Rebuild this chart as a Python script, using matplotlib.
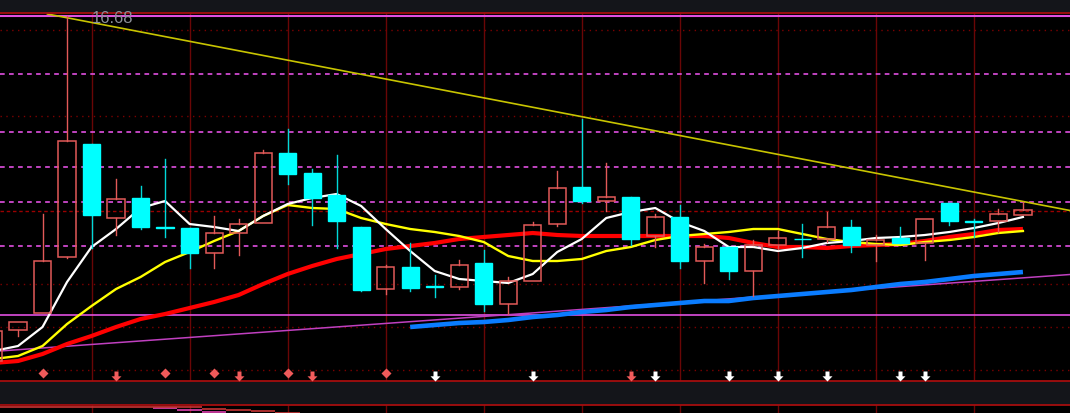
import matplotlib
matplotlib.use("Agg")
import matplotlib.pyplot as plt
from matplotlib.patches import Rectangle
from matplotlib.path import Path
import matplotlib.transforms as mtransforms

# ---------------- data ----------------
opens = [9.78, 10.40, 10.74, 11.86, 14.12, 12.64, 13.04, 12.46, 12.44, 11.94,
         12.34, 12.54, 13.94, 13.54, 13.10, 12.46, 11.22, 11.66, 11.28, 11.26,
         11.74, 10.92, 11.38, 12.52, 13.26, 12.98, 13.06, 12.28, 12.66, 11.78,
         12.06, 11.58, 12.10, 12.23, 12.22, 12.46, 12.10, 12.24, 12.14, 12.94,
         12.58, 12.58, 12.70]
highs = [10.40, 10.56, 12.72, 16.68, 14.12, 13.42, 13.28, 13.82, 12.44, 12.68,
         12.62, 14.00, 14.42, 13.62, 13.90, 12.46, 11.70, 12.14, 11.50, 11.80,
         12.00, 11.46, 12.56, 13.58, 14.62, 13.74, 13.06, 12.72, 12.90, 12.12,
         12.06, 12.20, 12.38, 12.52, 12.76, 12.60, 12.30, 12.46, 12.62, 12.94,
         12.62, 12.82, 12.96]
lows = [9.76, 10.28, 10.74, 11.84, 12.04, 12.30, 12.42, 12.26, 11.64, 11.64,
        11.90, 12.54, 13.32, 12.50, 12.04, 11.18, 11.12, 11.18, 11.06, 11.22,
        10.78, 10.72, 11.38, 12.48, 12.94, 12.78, 12.10, 12.06, 11.64, 11.34,
        11.42, 11.08, 12.02, 11.86, 12.16, 11.96, 11.78, 12.14, 11.80, 12.50,
        12.26, 12.36, 12.70]
closes = [10.38, 10.56, 11.78, 14.18, 12.70, 13.02, 12.46, 12.45, 11.94, 12.34,
          12.52, 13.94, 13.52, 13.04, 12.58, 11.20, 11.66, 11.24, 11.27, 11.70,
          10.92, 11.38, 12.50, 13.24, 12.98, 13.06, 12.22, 12.66, 11.78, 12.06,
          11.58, 12.10, 12.24, 12.22, 12.46, 12.10, 12.20, 12.14, 12.62, 12.58,
          12.57, 12.72, 12.80]

ma_white = [9.98, 10.08, 10.46, 11.36, 12.06, 12.42, 12.84, 12.98, 12.52, 12.46,
            12.38, 12.68, 12.92, 13.04, 13.12, 12.88, 12.42, 11.98, 11.58, 11.42,
            11.38, 11.34, 11.52, 11.96, 12.22, 12.64, 12.76, 12.84, 12.56, 12.38,
            12.06, 12.06, 11.98, 12.04, 12.14, 12.18, 12.24, 12.26, 12.30, 12.36,
            12.44, 12.54, 12.66]
ma_yellow = [9.82, 9.88, 10.08, 10.52, 10.88, 11.22, 11.46, 11.76, 11.96, 12.18,
             12.38, 12.68, 12.90, 12.84, 12.82, 12.64, 12.52, 12.42, 12.36, 12.28,
             12.16, 11.88, 11.78, 11.78, 11.82, 11.98, 12.06, 12.20, 12.28, 12.32,
             12.36, 12.42, 12.42, 12.32, 12.22, 12.16, 12.12, 12.10, 12.16, 12.20,
             12.26, 12.34, 12.38]
ma_red = [9.74, 9.78, 9.92, 10.12, 10.28, 10.46, 10.62, 10.72, 10.84, 10.96,
          11.10, 11.32, 11.52, 11.68, 11.82, 11.92, 12.02, 12.08, 12.14, 12.22,
          12.26, 12.30, 12.34, 12.30, 12.28, 12.28, 12.28, 12.28, 12.28, 12.28,
          12.24, 12.14, 12.06, 12.06, 12.04, 12.08, 12.10, 12.12, 12.18, 12.26,
          12.32, 12.40, 12.42]
ma_blue_start = 17
ma_blue = [10.46, 10.50, 10.54, 10.56, 10.60, 10.66, 10.70, 10.76, 10.80, 10.86,
           10.90, 10.94, 10.98, 10.98, 11.04, 11.08, 11.12, 11.16, 11.20, 11.26,
           11.32, 11.36, 11.42, 11.48, 11.52, 11.56]

high_label = "16.68"
high_price = 16.68
high_index = 3

resist_x = [2.2, 43.92]
resist_y = [16.72, 12.79]
support_x = [0.27, 43.92]
support_y = [9.98, 11.51]

magenta_dash_levels = [15.52, 14.36, 13.66, 12.97, 12.09]
magenta_solid_levels = [16.68, 10.70]
red_dot_levels = [16.40, 14.68, 11.32, 10.46, 9.61]
last_price_level = 12.79

grid_idx = [4, 8, 12, 16, 20, 24, 28, 32, 36, 40]

diamond_idx = [2, 7, 9, 12, 16]
red_arrow_idx = [5, 10, 13, 26]
white_arrow_idx = [18, 22, 27, 30, 32, 34, 37, 38]

ind_red = [6.5, 6.5, 6.5, 6.5, 6.5, 6.5, 6.5, 6.5, 6.5, 4.0, 3.0, 1.7, 0.5]
ind_pink_start = 7
ind_pink = [5.3, 3.0, 1.0]

# ---------------- styling ----------------
BG_BAND = "#14151a"
BORDER = "#a50e0e"
GRID = "#6a0606"
UP = "#e35a58"
DOWN = "#00ffff"

W, H = 1070, 414
fig = plt.figure(figsize=(W / 100, H / 100), dpi=100, facecolor=BG_BAND)

xlim = (0.2652, 43.92)
ax = fig.add_axes([0, 32.5 / H, 1, 367.5 / H])
ax.set_facecolor("black")
ax.set_xlim(*xlim)
ax.set_ylim(9.39, 16.74)
ax.set_xticks([])
ax.set_yticks([])
for s in ("left", "right"):
    ax.spines[s].set_visible(False)
for s in ("top", "bottom"):
    ax.spines[s].set_color(BORDER)
    ax.spines[s].set_linewidth(1.3)

# vertical grid
for g in grid_idx:
    ax.axvline(g, color=GRID, lw=1.0, zorder=1)

# horizontal levels
for lv in red_dot_levels:
    ax.axhline(lv, color="#7c0000", lw=1.0, ls=(0, (1.0, 3.2)), zorder=1)
ax.axhline(last_price_level, color="#9a0000", lw=1.0, ls=(0, (2.5, 2.0)), zorder=1)
for lv in magenta_dash_levels:
    ax.axhline(lv, color="#d04ad0", lw=1.3, ls=(0, (2.6, 2.4)), zorder=2)
for lv in magenta_solid_levels:
    ax.axhline(lv, color="#e050e0", lw=1.5 if lv == high_price else 1.2, zorder=2)

# trend lines
ax.plot(resist_x, resist_y, color="#c8c400", lw=1.2, zorder=2)
ax.plot(support_x, support_y, color="#c040c0", lw=1.1, zorder=2)

# moving averages
idx = list(range(len(closes)))
ax.plot(idx, ma_red, color="#ff0000", lw=3.0, zorder=3, solid_capstyle="butt")
ax.plot(idx, ma_yellow, color="#ffff00", lw=1.7, zorder=3)
ax.plot(idx, ma_white, color="#ffffff", lw=1.6, zorder=3)
blue_idx = list(range(ma_blue_start, ma_blue_start + len(ma_blue)))
ax.plot(blue_idx, ma_blue, color="#0a7cff", lw=3.3, zorder=3, solid_capstyle="butt")

# candles
bw = 0.70
for j, (o, h, l, c) in enumerate(zip(opens, highs, lows, closes)):
    top, bot = max(o, c), min(o, c)
    if c >= o:
        ax.plot([j, j], [top, h], color=UP, lw=1.0, zorder=4)
        ax.plot([j, j], [l, bot], color=UP, lw=1.0, zorder=4)
        ax.add_patch(Rectangle((j - bw / 2, bot), bw, top - bot, facecolor="none",
                               edgecolor=UP, lw=1.1, zorder=5))
    else:
        ax.plot([j, j], [l, h], color="#00d8d8", lw=1.0, zorder=4)
        ax.add_patch(Rectangle((j - bw / 2, bot), bw, top - bot, facecolor=DOWN,
                               edgecolor=DOWN, lw=1.0, zorder=5))

# high label
ax.annotate(high_label, xy=(high_index, high_price), xytext=(18, -1.0),
            textcoords="offset points", color="#8b8f98", fontsize=12,
            family=["Liberation Sans", "DejaVu Sans"], va="center", ha="left",
            zorder=6)

# signal markers
trans = mtransforms.blended_transform_factory(ax.transData, ax.transAxes)
arrow_path = Path([(-0.2, 0.5), (0.2, 0.5), (0.2, 0.02), (0.5, 0.02), (0.0, -0.5),
                   (-0.5, 0.02), (-0.2, 0.02), (-0.2, 0.5)],
                  [Path.MOVETO] + [Path.LINETO] * 6 + [Path.CLOSEPOLY])
ax.plot(diamond_idx, [0.021] * len(diamond_idx), ls="none", marker="D", ms=5.0,
        mfc="#f05a5a", mec="none", transform=trans, zorder=6, clip_on=False)
ax.plot(red_arrow_idx, [0.0125] * len(red_arrow_idx), ls="none", marker=arrow_path,
        ms=7.2, mfc="#f25c5c", mec="none", transform=trans, zorder=6, clip_on=False)
ax.plot(white_arrow_idx, [0.0125] * len(white_arrow_idx), ls="none", marker=arrow_path,
        ms=7.2, mfc="#ffffff", mec="none", transform=trans, zorder=6, clip_on=False)

# bottom indicator strip
ax2 = fig.add_axes([0, 0, 1, 8 / H])
ax2.set_facecolor("black")
ax2.set_xlim(*xlim)
ax2.set_ylim(0, 8)
ax2.set_xticks([])
ax2.set_yticks([])
for s in ("left", "right", "bottom"):
    ax2.spines[s].set_visible(False)
ax2.spines["top"].set_color(BORDER)
ax2.spines["top"].set_linewidth(1.3)
for g in grid_idx:
    ax2.axvline(g, color=GRID, lw=1.0, zorder=1)
for j, v in enumerate(ind_red):
    ax2.hlines(v, j - 0.5, j + 0.5, color="#c83434", lw=1.2, zorder=3)
for k, v in enumerate(ind_pink):
    j = ind_pink_start + k
    ax2.hlines(v, j - 0.5, j + 0.5, color="#e040b0", lw=1.2, zorder=2)

fig.savefig("out.png", dpi=100, facecolor=fig.get_facecolor())
